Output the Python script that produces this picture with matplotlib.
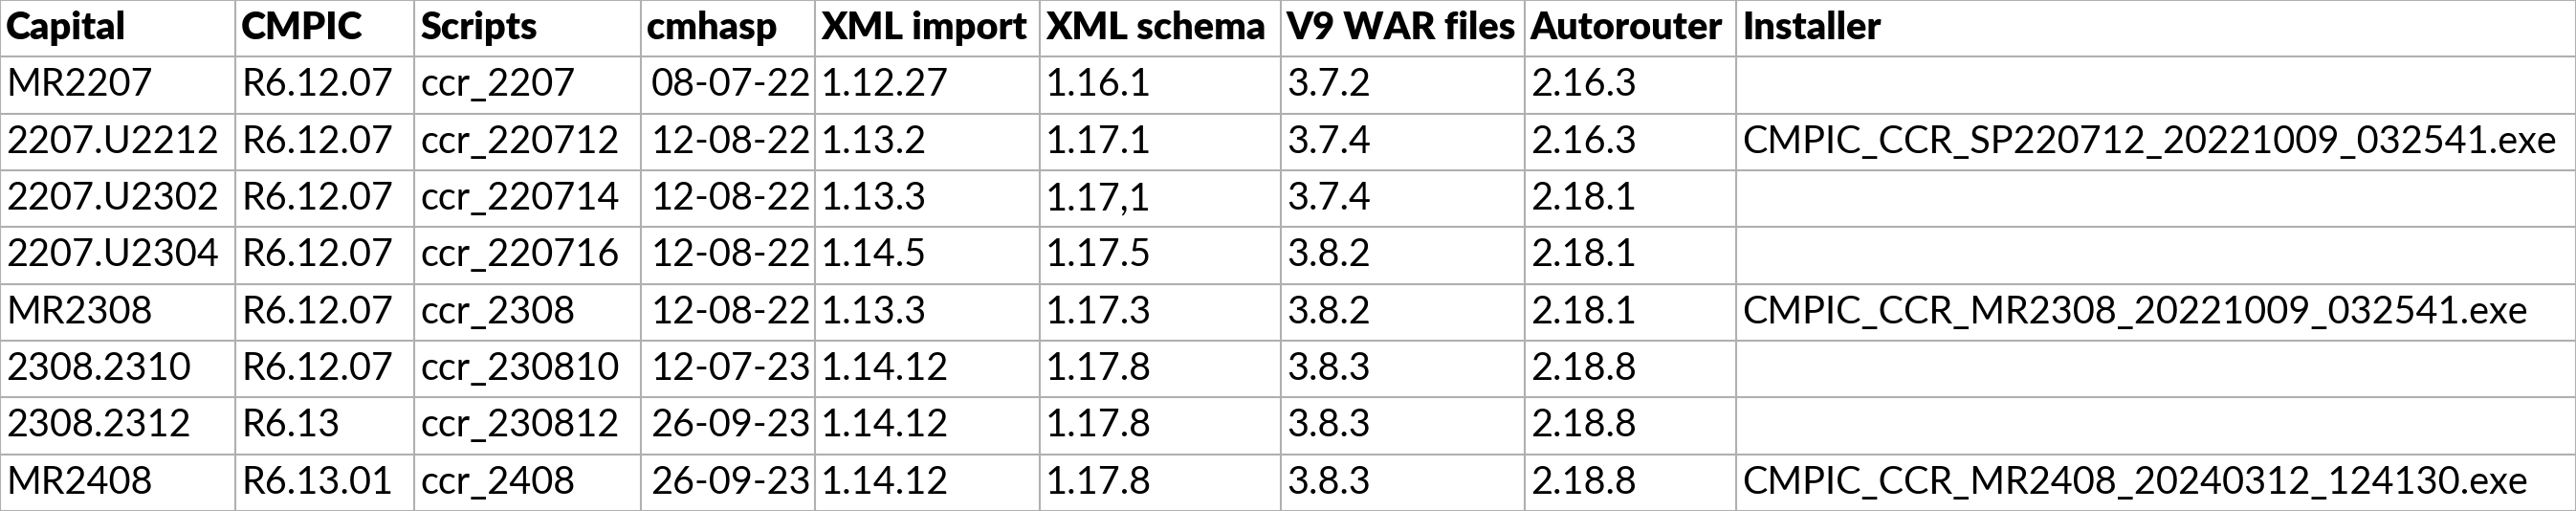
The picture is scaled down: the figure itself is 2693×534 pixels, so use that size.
import matplotlib.pyplot as plt

headers = ["Capital", "CMPIC", "Scripts", "cmhasp", "XML import", "XML schema",
           "V9 WAR files", "Autorouter", "Installer"]
capital = ["MR2207", "2207.U2212", "2207.U2302", "2207.U2304", "MR2308",
           "2308.2310", "2308.2312", "MR2408"]
cmpic = ["R6.12.07"] * 6 + ["R6.13", "R6.13.01"]
scripts = ["ccr_2207", "ccr_220712", "ccr_220714", "ccr_220716", "ccr_2308",
           "ccr_230810", "ccr_230812", "ccr_2408"]
cmhasp = ["08-07-22", "12-08-22", "12-08-22", "12-08-22", "12-08-22",
          "12-07-23", "26-09-23", "26-09-23"]
xml_import = ["1.12.27", "1.13.2", "1.13.3", "1.14.5", "1.13.3",
              "1.14.12", "1.14.12", "1.14.12"]
xml_schema = ["1.16.1", "1.17.1", "1.17,1", "1.17.5", "1.17.3",
              "1.17.8", "1.17.8", "1.17.8"]
war_files = ["3.7.2", "3.7.4", "3.7.4", "3.8.2", "3.8.2", "3.8.3", "3.8.3", "3.8.3"]
autorouter = ["2.16.3", "2.16.3", "2.18.1", "2.18.1", "2.18.1",
              "2.18.8", "2.18.8", "2.18.8"]
installer = ["", "CMPIC_CCR_SP220712_20221009_032541.exe", "", "",
             "CMPIC_CCR_MR2308_20221009_032541.exe", "", "",
             "CMPIC_CCR_MR2408_20240312_124130.exe"]
columns = [capital, cmpic, scripts, cmhasp, xml_import, xml_schema,
           war_files, autorouter, installer]

W, H = 2693, 534
edges = [0, 246, 433, 670, 852, 1087, 1339, 1594, 1815, 2693]
nrows = len(capital) + 1
rh = H / nrows
fs = 28.5

fig = plt.figure(figsize=(W / 100, H / 100), dpi=100)
ax = fig.add_axes([0, 0, 1, 1])
ax.set_xlim(0, W)
ax.set_ylim(H, 0)
ax.axis("off")
plt.rcParams['font.family'] = ['Lato', 'DejaVu Sans']

for x in edges:
    ax.axvline(x, color="#b0b0b0", lw=1.5)
for i in range(nrows + 1):
    ax.axhline(i * rh, color="#b0b0b0", lw=1.5)

for c, name in enumerate(headers):
    ax.text(edges[c] + 6, rh / 2, name, fontsize=fs, fontweight="heavy",
            va="center", ha="left")
    for r, val in enumerate(columns[c]):
        y = (r + 1.5) * rh
        if name == "cmhasp":
            ax.text(edges[c + 1] - 4, y, val, fontsize=fs, va="center", ha="right")
        else:
            ax.text(edges[c] + 6, y, val, fontsize=fs, va="center", ha="left")

fig.savefig("out.png", dpi=100)
